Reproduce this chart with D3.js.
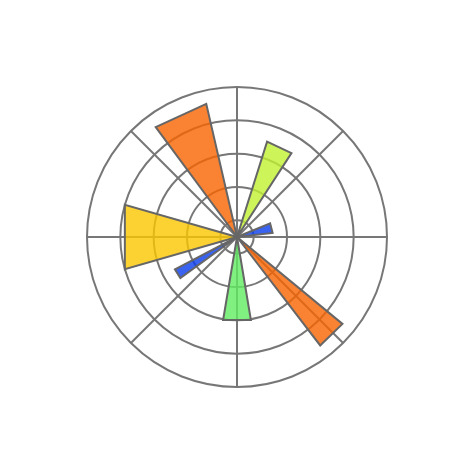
<!DOCTYPE html>
<html>
<head>
<meta charset="utf-8">
<script src="https://cdn.jsdelivr.net/npm/d3@7"></script>
<style>
  body { margin: 0; background: #fff; }
</style>
</head>
<body>
<div id="chart_container"></div>
<script>
// bar data (angles in degrees, counter-clockwise from east)
var bar_start = [6.5, 57, 103, 164, 207.5, 260.5, 307.5]
var bar_width = [16, 15.5, 23.5, 32, 8.5, 19, 13]
var bar_radius = [2.15, 6, 8.2, 7, 4.2, 5.05, 8.2]
var bar_color = ["#093cec", "#c0f231", "#f96300", "#fbc700", "#093cec", "#60ec60", "#f96300"]

var ring_ticks = [1, 3, 5, 7, 9]
var spoke_ticks = [0, 45, 90, 135, 180, 225, 270, 315]

var w = 474, h = 474
var cx = 237, cy = 237
var r_max = 9

draw_polar()

function draw_polar() {
    var svg = d3.select("#chart_container")
        .append("svg")
            .attr("width", w)
            .attr("height", h)

    var canvas = svg.append("g")
        .attr("transform", "translate(" + cx + "," + cy + ")")

    var r = d3.scaleLinear().domain([0, r_max]).range([0, 150])
    // polar degrees -> d3 radial radians (0 at top, clockwise)
    var ang = d3.scaleLinear().domain([0, 360]).range([Math.PI / 2, Math.PI / 2 - 2 * Math.PI])

    // grid below the bars
    var grid = canvas.append("g").attr("class", "grid")

    grid.selectAll("circle").data(ring_ticks)
        .enter()
        .append("circle")
        .attr("r", function(d) { return r(d) })
        .style("fill", "none")
        .style("stroke", "#777")
        .style("stroke-width", "2px")

    var spoke = d3.lineRadial()
        .angle(function(d) { return ang(d[0]) })
        .radius(function(d) { return r(d[1]) })

    grid.selectAll("path").data(spoke_ticks)
        .enter()
        .append("path")
        .attr("d", function(d) { return spoke([[d, 0], [d, r_max]]) })
        .style("stroke", "#777")
        .style("stroke-width", "2px")

    var data = bar_start.map(function(s, i) {
        return { start: s, width: bar_width[i], radius: bar_radius[i], color: bar_color[i] }
    })

    // wedges with straight outer edge: centre, then the two outer corners
    var wedge = d3.lineRadial()
        .angle(function(d) { return ang(d[0]) })
        .radius(function(d) { return r(d[1]) })
        .curve(d3.curveLinearClosed)

    canvas.selectAll(".bar").data(data)
        .enter()
        .append("path")
        .attr("class", "bar")
        .attr("d", function(d) {
            return wedge([[d.start, 0], [d.start, d.radius], [d.start + d.width, d.radius]])
        })
        .style("fill", function(d) { return d.color })
        .style("fill-opacity", 0.8)
        .style("stroke", "#666")
        .style("stroke-width", "2px")
        .style("stroke-linejoin", "miter")
}
</script>
</body>
</html>
